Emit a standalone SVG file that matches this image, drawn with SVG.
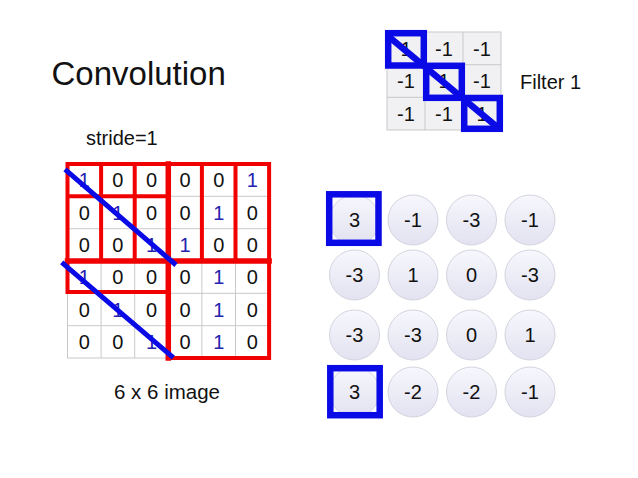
<svg xmlns="http://www.w3.org/2000/svg" width="638" height="478" viewBox="0 0 638 478">
<defs>
<linearGradient id="cg" x1="0" y1="0" x2="0" y2="1">
<stop offset="0" stop-color="#f7f7fd"/>
<stop offset="1" stop-color="#e2e2f1"/>
</linearGradient>
</defs>
<style>
text{font-family:"Liberation Sans",Arial,sans-serif;fill:#111}
.d{font-size:20px;text-anchor:middle}
.b{fill:#2323b0}
.g{stroke:#c9c9c9;stroke-width:1;fill:none}
.r{stroke:#f00000;stroke-width:4;fill:none;stroke-linecap:square}
.rt{stroke-width:5.5}
.bl{stroke:#0a0ae6;fill:none}
.c{fill:url(#cg);stroke:#d4d4e0;stroke-width:1}
</style>
<rect width="638" height="478" fill="#fff"/>
<text x="51.5" y="85" font-size="33">Convolution</text>
<text x="86" y="145" font-size="20">stride=1</text>
<text x="114" y="398.5" font-size="20.5">6 x 6 image</text>
<text x="520" y="88.5" font-size="20">Filter 1</text>

<g id="image">
<g class="g">
<rect x="67.5" y="164" width="201.6" height="194"/>
<path d="M101.1 164V358M134.7 164V358M168.3 164V358M201.9 164V358M235.5 164V358M67.5 196.3H269.1M67.5 228.7H269.1M67.5 261H269.1M67.5 293.3H269.1M67.5 325.7H269.1"/>
</g>
<g class="d">
<text x="84.3" y="187.2" class="b">1</text><text x="117.9" y="187.2">0</text><text x="151.5" y="187.2">0</text><text x="185.1" y="187.2">0</text><text x="218.7" y="187.2">0</text><text x="252.3" y="187.2" class="b">1</text>
<text x="84.3" y="219.5">0</text><text x="117.9" y="219.5" class="b">1</text><text x="151.5" y="219.5">0</text><text x="185.1" y="219.5">0</text><text x="218.7" y="219.5" class="b">1</text><text x="252.3" y="219.5">0</text>
<text x="84.3" y="251.8">0</text><text x="117.9" y="251.8">0</text><text x="151.5" y="251.8" class="b">1</text><text x="185.1" y="251.8" class="b">1</text><text x="218.7" y="251.8">0</text><text x="252.3" y="251.8">0</text>
<text x="84.3" y="284.2" class="b">1</text><text x="117.9" y="284.2">0</text><text x="151.5" y="284.2">0</text><text x="185.1" y="284.2">0</text><text x="218.7" y="284.2" class="b">1</text><text x="252.3" y="284.2">0</text>
<text x="84.3" y="316.5">0</text><text x="117.9" y="316.5" class="b">1</text><text x="151.5" y="316.5">0</text><text x="185.1" y="316.5">0</text><text x="218.7" y="316.5" class="b">1</text><text x="252.3" y="316.5">0</text>
<text x="84.3" y="348.8">0</text><text x="117.9" y="348.8">0</text><text x="151.5" y="348.8" class="b">1</text><text x="185.1" y="348.8">0</text><text x="218.7" y="348.8" class="b">1</text><text x="252.3" y="348.8">0</text>
</g>
</g>

<g id="filter">
<g>
<rect x="387" y="32" width="114" height="98" fill="#f1f1f3" stroke="#c9c9c9"/>
<path class="g" d="M425 32V130M463 32V130M387 64.7H501M387 97.3H501"/>
</g>
<g class="d">
<text x="406" y="55.5">1</text><text x="444" y="55.5">-1</text><text x="482" y="55.5">-1</text>
<text x="406" y="88">-1</text><text x="444" y="88">1</text><text x="482" y="88">-1</text>
<text x="406" y="120.5">-1</text><text x="444" y="120.5">-1</text><text x="482" y="120.5">1</text>
</g>
</g>

<g id="output">
<circle class="c" cx="354.5" cy="220" r="25"/><circle class="c" cx="413" cy="220" r="25"/><circle class="c" cx="471.5" cy="220" r="25"/><circle class="c" cx="530" cy="220" r="25"/>
<circle class="c" cx="354.5" cy="275" r="25"/><circle class="c" cx="413" cy="275" r="25"/><circle class="c" cx="471.5" cy="275" r="25"/><circle class="c" cx="530" cy="275" r="25"/>
<circle class="c" cx="354.5" cy="335" r="25"/><circle class="c" cx="413" cy="335" r="25"/><circle class="c" cx="471.5" cy="335" r="25"/><circle class="c" cx="530" cy="335" r="25"/>
<circle class="c" cx="354.5" cy="392" r="25"/><circle class="c" cx="413" cy="392" r="25"/><circle class="c" cx="471.5" cy="392" r="25"/><circle class="c" cx="530" cy="392" r="25"/>
<g class="d">
<text x="354.5" y="227">3</text><text x="413" y="227">-1</text><text x="471.5" y="227">-3</text><text x="530" y="227">-1</text>
<text x="354.5" y="282">-3</text><text x="413" y="282">1</text><text x="471.5" y="282">0</text><text x="530" y="282">-3</text>
<text x="354.5" y="342">-3</text><text x="413" y="342">-3</text><text x="471.5" y="342">0</text><text x="530" y="342">1</text>
<text x="354.5" y="399">3</text><text x="413" y="399">-2</text><text x="471.5" y="399">-2</text><text x="530" y="399">-1</text>
</g>
</g>

<g id="connectors">
<g class="r">
<path d="M67.5 164H269.1M67.5 164V292M101.1 164V261M134.7 164V261M201.9 164V261M235.5 164V261M269.1 164V358M67.5 196.3H168.3M67.5 292H168.3M168.3 358H269.1"/>
<path class="rt" d="M168.3 164V358M67.5 261H269.1"/>
</g>
<g class="bl" stroke-width="5">
<path d="M65 169.3L176 265M61.7 262.3L173.3 357.7"/>
</g>
<g class="bl" stroke-width="6.5">
<rect x="388.2" y="33.2" width="35.6" height="32.3"/>
<rect x="426.2" y="65.8" width="35.6" height="32"/>
<rect x="464.2" y="98" width="35.6" height="30.8"/>
<path d="M388 36L499 128.5"/>
<rect x="329.2" y="194.3" width="49.3" height="48.5"/>
<rect x="330.3" y="368.2" width="49.4" height="47"/>
</g>
</g>
</svg>
